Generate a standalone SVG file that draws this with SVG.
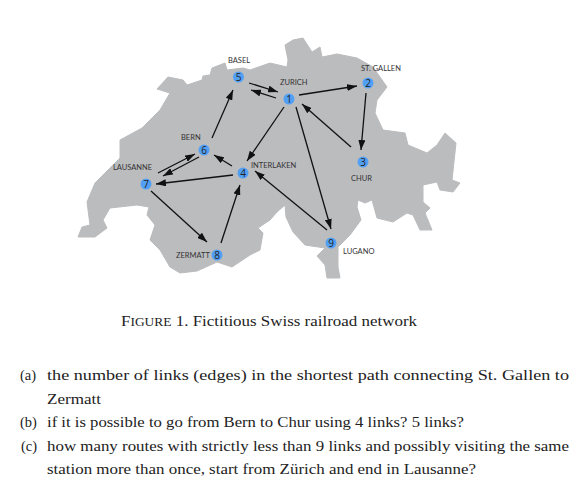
<svg xmlns="http://www.w3.org/2000/svg" width="577" height="483" viewBox="0 0 577 483">
<style>
.lb{font-family:Lato,"Open Sans",sans-serif;font-size:7.500px;fill:#333}
.n{fill:#52a0f5}
.num{font-family:"Open Sans","Noto Sans",sans-serif;font-size:10px;fill:#222;text-anchor:middle}
.t{font-family:"Liberation Serif",serif;font-size:14.500px;fill:#222}
.e{stroke:#111;stroke-width:1.3;fill:none;marker-end:url(#a)}
</style>
<defs><marker id="a" markerUnits="userSpaceOnUse" markerWidth="11" markerHeight="7" refX="10" refY="3.500" orient="auto"><path d="M0 0L10 3.500L0 7Z" fill="#111"/></marker></defs>
<path id="map" fill="#bbbcbe" stroke="#bbbcbe" stroke-linejoin="round" d="M78 237L82 227L90 225L87 202L95 183L120 158L120 140L142 128L160 110L170 93L157 89L168 77L183 80L187 85L202 80L203 76L210 75L212 68L225 63L227 70L243 68L250 70L270 63L287 67L288 60L285 45L293 40L303 38L312 52L320 47L322 57L337 54L357 58L373 67L387 87L377 100L375 113L383 130L405 133L408 145L427 153L437 145L445 133L456 143L452 180L460 183L453 192L440 190L437 182L423 185L423 202L430 208L425 213L432 230L420 230L413 215L407 213L393 222L377 218L372 200L365 203L358 200L357 207L361 220L350 235L338 247L338 267L340 278L327 278L325 265L317 256L325 248L305 245L293 232L286 217L285 205L277 212L270 220L258 228L263 233L260 250L250 255L232 267L217 262L197 271L180 273L170 267L160 250L150 240L155 225L147 215L149 207L137 205L110 208L103 220L107 228L95 237Z"/>
<g id="connectors">
<path class="e" d="M249 83L278 92"/>
<path class="e" d="M276 98L251 90"/>
<path class="e" d="M299 95L357 86"/>
<path class="e" d="M366 93L361 150"/>
<path class="e" d="M351 147L302 104"/>
<path class="e" d="M284 107L247 161"/>
<path class="e" d="M296 107L331 229"/>
<path class="e" d="M327 230L255 171"/>
<path class="e" d="M212 138L233 90"/>
<path class="e" d="M232 166L214 155"/>
<path class="e" d="M233 175L156 184"/>
<path class="e" d="M158 173L195 154"/>
<path class="e" d="M199 157L163 176"/>
<path class="e" d="M151 191L207 242"/>
<path class="e" d="M221 243L240 185"/>
</g>
<g id="n1"><circle class="n" cx="289" cy="99" r="5.500"/><text class="num" x="289" y="102.500">1</text><text class="lb" x="280" y="85">ZURICH</text></g>
<g id="n2"><circle class="n" cx="368" cy="83" r="5.500"/><text class="num" x="368" y="86.500">2</text><text class="lb" x="361" y="71">ST. GALLEN</text></g>
<g id="n3"><circle class="n" cx="363" cy="162" r="5.500"/><text class="num" x="363" y="165.500">3</text><text class="lb" x="351" y="181">CHUR</text></g>
<g id="n4"><circle class="n" cx="243" cy="173" r="5.500"/><text class="num" x="243" y="176.500">4</text><text class="lb" x="251" y="168">INTERLAKEN</text></g>
<g id="n5"><circle class="n" cx="238.500" cy="77" r="5.500"/><text class="num" x="238.500" y="80.500">5</text><text class="lb" x="228" y="63">BASEL</text></g>
<g id="n6"><circle class="n" cx="204" cy="150" r="5.500"/><text class="num" x="204" y="153.500">6</text><text class="lb" x="181" y="140">BERN</text></g>
<g id="n7"><circle class="n" cx="146" cy="184" r="5.500"/><text class="num" x="146" y="187.500">7</text><text class="lb" x="113" y="170">LAUSANNE</text></g>
<g id="n8"><circle class="n" cx="217" cy="255" r="5.500"/><text class="num" x="217" y="258.500">8</text><text class="lb" x="176" y="258">ZERMATT</text></g>
<g id="n9"><circle class="n" cx="331" cy="243" r="5.500"/><text class="num" x="331" y="246.500">9</text><text class="lb" x="343" y="254">LUGANO</text></g>
<g id="caption"><text class="t" x="121" y="326" textLength="296" lengthAdjust="spacingAndGlyphs">F<tspan font-size="11.500">IGURE</tspan> 1.  Fictitious Swiss railroad network</text>
<text class="t" x="20" y="380">(a)</text><text class="t" x="47" y="380" textLength="522" lengthAdjust="spacingAndGlyphs">the number of links (edges) in the shortest path connecting St.  Gallen to</text>
<text class="t" x="47" y="403.500" textLength="54" lengthAdjust="spacingAndGlyphs">Zermatt</text>
<text class="t" x="20" y="427">(b)</text><text class="t" x="47" y="427" textLength="417" lengthAdjust="spacingAndGlyphs">if it is possible to go from Bern to Chur using 4 links? 5 links?</text>
<text class="t" x="21" y="451">(c)</text><text class="t" x="47" y="451" textLength="522" lengthAdjust="spacingAndGlyphs">how many routes with strictly less than 9 links and possibly visiting the same</text>
<text class="t" x="47" y="474" textLength="429" lengthAdjust="spacingAndGlyphs">station more than once, start from Zürich and end in Lausanne?</text></g>
</svg>
